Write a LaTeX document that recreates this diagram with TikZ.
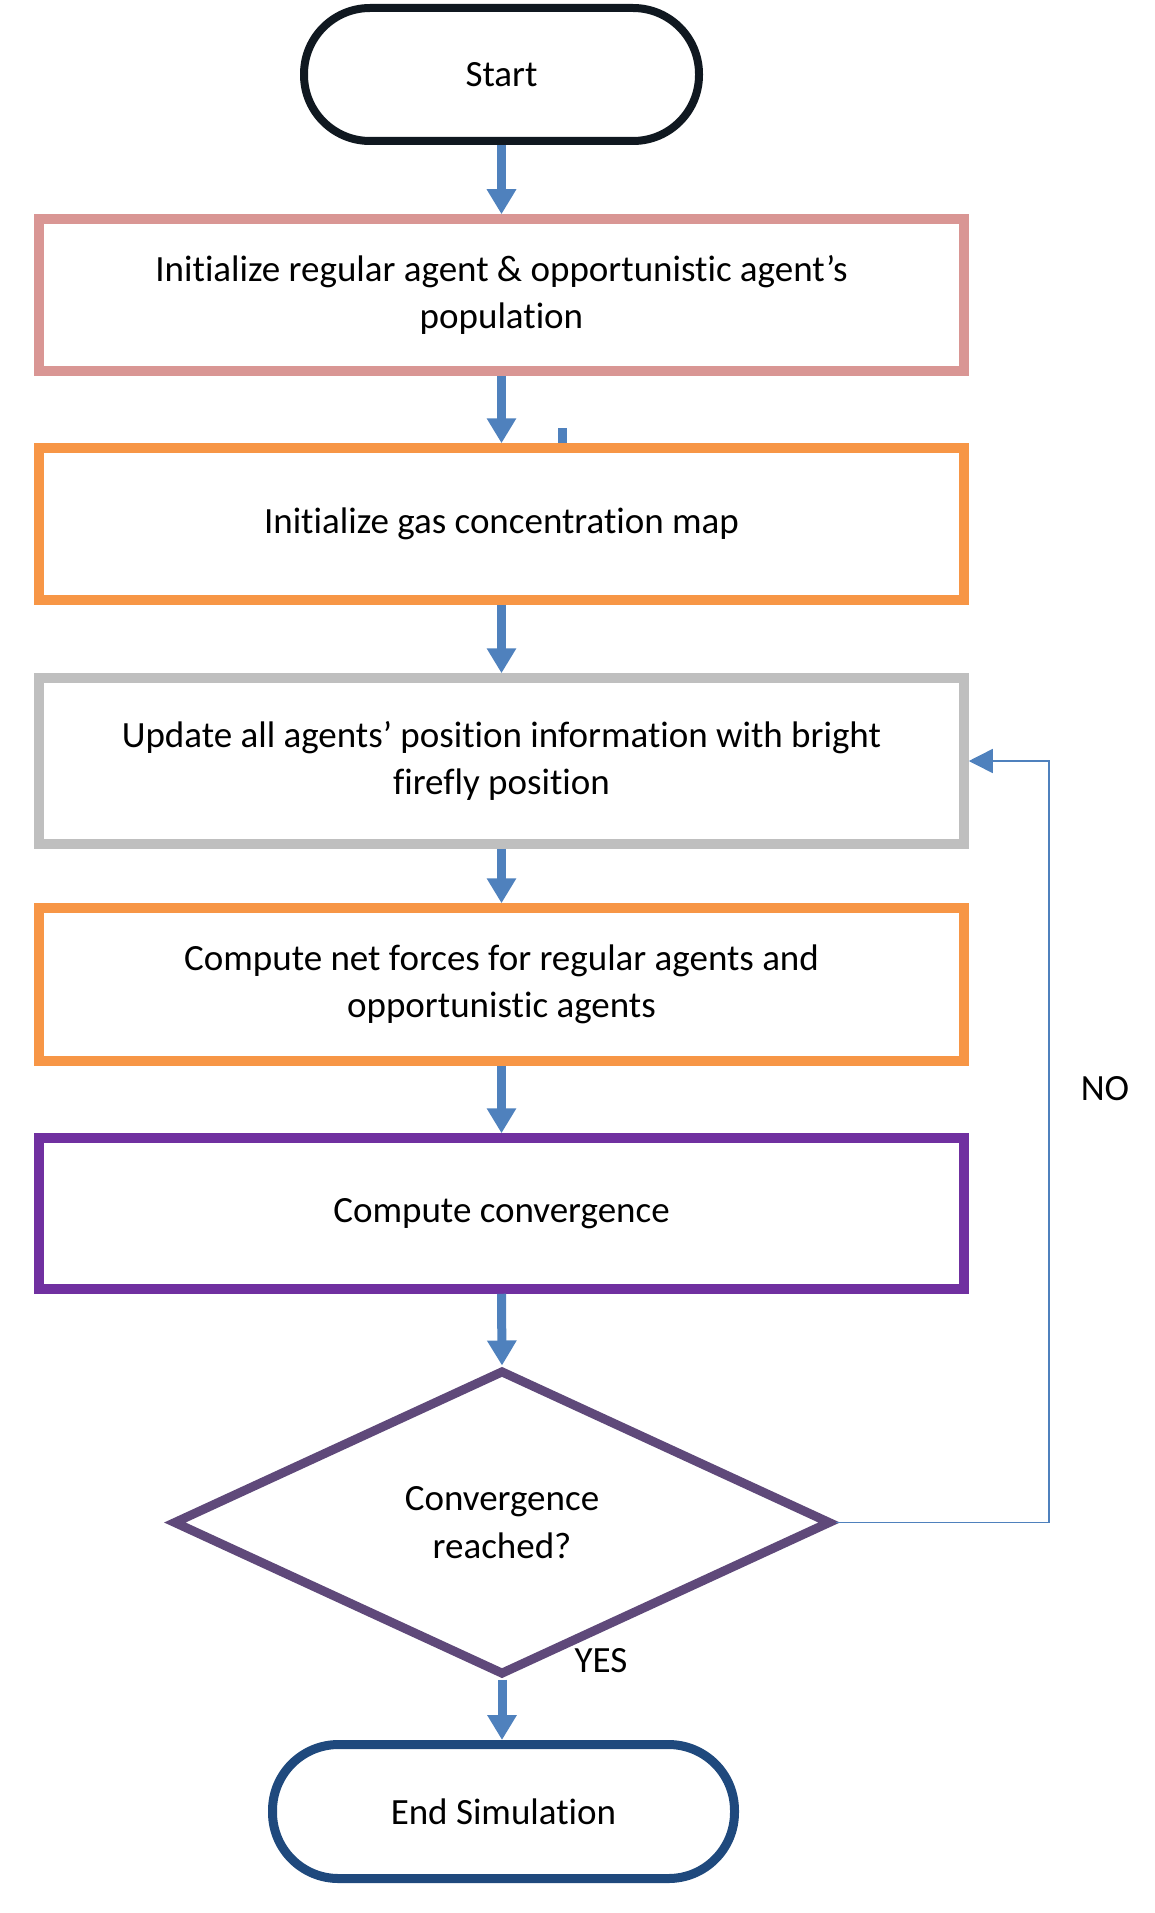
\documentclass[tikz,border=0pt]{standalone}
\usepackage{fontspec}
\setmainfont{Carlito}[Ligatures={NoCommon,NoContextual},RawFeature=-clig,RawFeature=-dlig]
\usepackage{tikz}
\usetikzlibrary{arrows.meta,shapes.geometric}
\usepackage{xcolor}
\definecolor{startc}{HTML}{101820}
\definecolor{pinkc}{HTML}{D99694}
\definecolor{orangec}{HTML}{F79646}
\definecolor{grayc}{HTML}{BFBFBF}
\definecolor{purplec}{HTML}{7030A0}
\definecolor{diamc}{HTML}{5F497A}
\definecolor{endc}{HTML}{1F497D}
\definecolor{arrowc}{HTML}{4F81BD}

\begin{document}
\begin{tikzpicture}[x=1pt,y=-1pt,font=\fontsize{37}{47.6}\selectfont,
  box/.style={draw,rectangle,line width=9.5pt,minimum width=925pt,minimum height=152pt,align=center,inner sep=0pt},
  term/.style={draw,rectangle,rounded corners=66pt,minimum height=133pt,inner sep=0pt},
  flow/.style={draw=arrowc,line width=9pt,-{Triangle[length=25pt,width=28pt]}},
  back/.style={draw=arrowc,line width=1.5pt,-{Triangle[length=24pt,width=24pt]}}]
\useasboundingbox (0,0) rectangle (1155,1913);
\node[term,draw=startc,line width=8pt,minimum width=395pt] (start) at (501.5,74.5) {Start};
\node[box,draw=pinkc] (init) at (501.5,295) {Initialize regular agent \& opportunistic agent’s\\population};
\node[box,draw=orangec] (gasmap) at (501.5,524) {Initialize gas concentration map};
\node[box,draw=grayc,minimum height=166pt] (update) at (501.5,761) {Update all agents’ position information with bright\\firefly position};
\node[box,draw=orangec,minimum height=153pt] (forces) at (501.5,984.5) {Compute net forces for regular agents and\\opportunistic agents};
\node[box,draw=purplec,minimum height=151pt] (conv) at (501.5,1213.5) {Compute convergence};
\node[diamond,draw=diamc,line width=9pt,minimum width=658pt,minimum height=305pt,align=center,inner sep=0pt] (check) at (502,1522.5) {Convergence\\reached?};
\node[term,draw=endc,line width=9pt,minimum width=462pt,minimum height=134pt] (finish) at (503.5,1811.5) {End Simulation};
\node (no) at (1105,1089) {NO};
\node (yes) at (601,1661) {YES};
\draw[flow] (start.south) -- (init.north);
\draw[flow] (init.south) -- (gasmap.north);
\coordinate (stub) at (562.5,428);
\draw[arrowc,line width=9pt] (stub) -- (stub |- gasmap.north);
\draw[flow] (gasmap.south) -- (update.north);
\draw[flow] (update.south) -- (forces.north);
\draw[flow] (forces.south) -- (conv.north);
\draw[flow] (conv.south) -- (check.north);
\draw[flow] (check.south) -- (check.south |- finish.north);
\coordinate (loop) at (1049,761);
\draw[back] (check.east) -| (loop) -- (update.east);
\end{tikzpicture}
\end{document}
